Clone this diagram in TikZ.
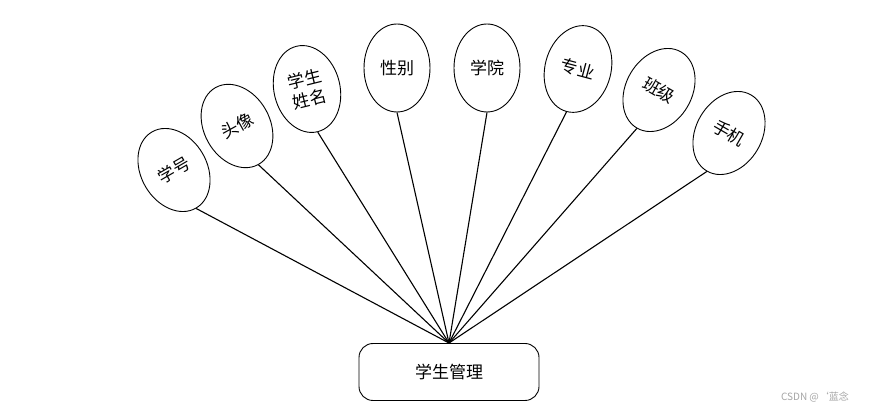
\documentclass[tikz,border=0pt]{standalone}
\usepackage{fontspec}
\setmainfont{Noto Sans CJK SC}
\usetikzlibrary{shapes.geometric}
\definecolor{Ink}{HTML}{000000}
\definecolor{Mark}{HTML}{A6A6A6}
\tikzset{attr/.style={ellipse,draw=Ink,line width=0.9pt,fill=white,minimum width=66pt,minimum height=88pt,inner sep=0pt,align=center,font=\fontsize{17}{20}\selectfont},entity/.style={rectangle,rounded corners=14pt,draw=Ink,line width=0.9pt,fill=white,minimum width=180pt,minimum height=57pt,font=\fontsize{17}{20}\selectfont},link/.style={draw=Ink,line width=1.1pt}}

\begin{document}
\begin{tikzpicture}[x=1pt,y=1pt]
\useasboundingbox[fill=white] (0,0) rectangle (884,412);
\node[entity] (Mgr) at (449,40) {学生管理};
\node[attr,rotate=30] (Id) at (174,242) {学号};\node[attr,rotate=29] (Photo) at (237,286) {头像};\node[attr,rotate=14] (Name) at (307,323) {学生\\姓名};\node[attr] (Gender) at (397,344) {性别};
\node[attr] (College) at (487,344) {学院};\node[attr,rotate=-15] (Major) at (578,343) {专业};\node[attr,rotate=-30] (Class) at (659,322) {班级};\node[attr,rotate=-30] (Phone) at (729,279) {手机};
\foreach \a in {Id,Photo,Name,Gender,College,Major,Class,Phone} \draw[link] (\a.south)--(Mgr.north);
\node[text=Mark,font=\fontsize{10}{12}\selectfont] (Wm) at (815,15) {CSDN @‘蓝念};
\end{tikzpicture}
\end{document}
